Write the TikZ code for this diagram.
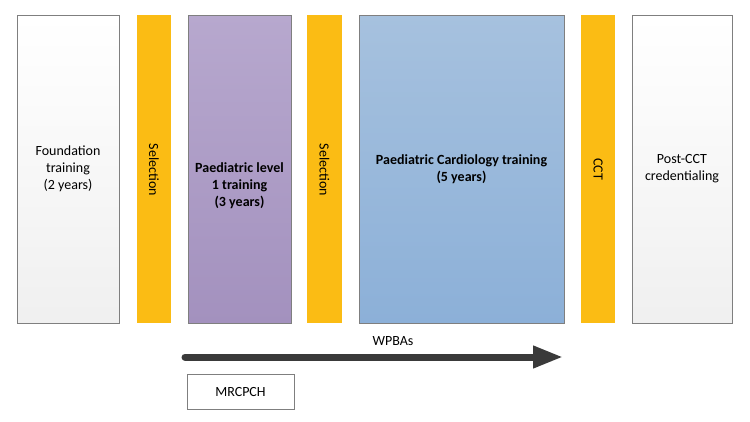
\documentclass[tikz,border=0pt]{standalone}
\usepackage{fontspec}
\setmainfont{Carlito}
\usetikzlibrary{arrows.meta}
\definecolor{selyellow}{HTML}{FBBC14}
\definecolor{boxborder}{HTML}{7F7F7F}
\definecolor{arrowgray}{HTML}{3A3A3A}
\tikzset{
  stage/.style={draw=boxborder, line width=0.9pt, rectangle, inner sep=0pt, outer sep=0pt,
    minimum height=308pt, align=center, font=\fontsize{14}{17}\selectfont},
  whitestage/.style={stage, top color=white, bottom color=black!6},
  purplestage/.style={stage, top color={rgb,255:red,183;green,168;blue,206}, bottom color={rgb,255:red,163;green,145;blue,190}},
  bluestage/.style={stage, top color={rgb,255:red,166;green,193;blue,222}, bottom color={rgb,255:red,140;green,176;blue,216}},
  selbar/.style={fill=selyellow, rectangle, inner sep=0pt, outer sep=0pt, minimum height=308pt,
    minimum width=34pt},
  bartext/.style={rotate=-90, font=\fontsize{14}{17}\selectfont},
  boldtext/.style={align=center, font=\fontsize{14}{17}\selectfont\bfseries},
  plaintext/.style={align=center, font=\fontsize{14}{17}\selectfont},
}
\begin{document}
\begin{tikzpicture}[x=1pt, y=-1pt]
\useasboundingbox (0,0) rectangle (750,421);
\node[whitestage, minimum width=102pt] (found) at (68,169) {Foundation\\training\\(2 years)};
\node[selbar] (sel1) at (154,169) {};
\node[bartext] (sel1t) at (154,170) {Selection};
\node[purplestage, minimum width=103pt] (ped1) at (239.5,169) {};
\node[boldtext] (ped1t) at (239.5,186) {Paediatric level\\1 training\\(3 years)};
\node[selbar, minimum width=35pt] (sel2) at (324.5,169) {};
\node[bartext] (sel2t) at (324.5,170) {Selection};
\node[bluestage, minimum width=205pt, font=\fontsize{14}{17}\selectfont\bfseries] (card) at (461.5,169) {Paediatric Cardiology training\\(5 years)};
\node[selbar] (cct) at (598,169) {};
\node[bartext] (cctt) at (598,169) {CCT};
\node[whitestage, minimum width=100pt] (post) at (682,169) {Post-CCT\\credentialing};
\coordinate (astart) at (185,357);
\coordinate (aend) at (563,357);
\draw[arrowgray, line width=7pt, line cap=round, -{Triangle[length=30pt, width=21pt]}] (astart) -- (aend);
\node[plaintext] (wpba) at (393,341) {WPBAs};
\node[draw=boxborder, line width=0.9pt, rectangle, minimum width=107pt, minimum height=35pt, inner sep=0pt,
  font=\fontsize{14}{17}\selectfont] (mrcpch) at (240.5,391.5) {MRCPCH};
\end{tikzpicture}
\end{document}
